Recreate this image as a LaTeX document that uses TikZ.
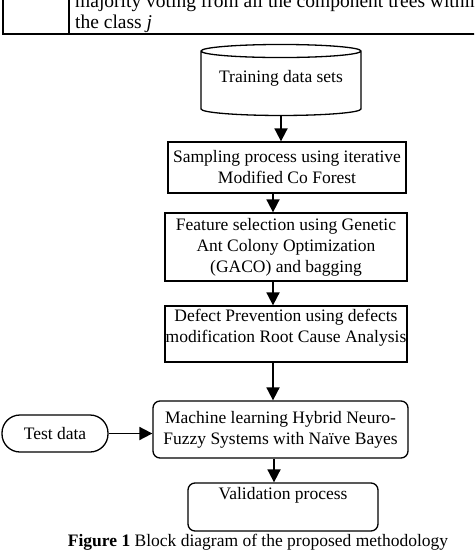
\documentclass[tikz,border=0pt]{standalone}
\usepackage{fontspec}
\setmainfont{Liberation Serif}
\usepackage{tikz}
\usetikzlibrary{shapes.geometric, arrows.meta, positioning}

\begin{document}
\begin{tikzpicture}[x=1pt, y=-1pt,
  every node/.style={font=\fontsize{17.5}{21}\selectfont},
  proc/.style={draw,rectangle,line width=1.3pt,align=center,inner xsep=2pt},
  rproc/.style={proc,rounded corners=7pt},
  term/.style={draw,rectangle,rounded corners=18pt,line width=1.3pt,align=center},
  store/.style={draw,cylinder,shape border rotate=90,aspect=0.1,line width=1.3pt,align=center},
  arr/.style={-{Triangle[width=13pt,length=13pt]},line width=1.8pt}
]
\useasboundingbox (0,0) rectangle (474,551);
\clip (0,0) rectangle (474,551);

% table left over from the page above
\draw[line width=1.5pt] (3,-5) -- (3,34) -- (480,34);
\draw[line width=1.2pt] (69,-5) -- (69,34);
\node[anchor=south west,inner sep=0pt,align=left,font=\fontsize{19.5}{21}\selectfont] (tbl) at (75,33)
  {majority voting from all the component trees within\\the class \textit{j}};

% flow
\node[store, minimum width=160pt, minimum height=71pt, text depth=16pt] (data) at (281,84.5) {Training data sets};
\node[proc, minimum width=238pt, minimum height=51pt] (samp) at (287,167.5)
  {Sampling process using iterative\\Modified Co Forest};
\node[proc, minimum width=242pt, minimum height=68pt] (feat) at (286,247)
  {Feature selection using Genetic\\Ant Colony Optimization\\(GACO) and bagging};
\node[proc, inner xsep=0pt, minimum width=242pt, minimum height=54pt, text depth=16pt] (defect) at (286,334)
  {Defect Prevention using defects\\\makebox[236pt]{modification Root Cause Analysis}};
\node[rproc, minimum width=255pt, minimum height=57pt] (hyb) at (280.5,429.5)
  {Machine learning Hybrid Neuro-\\Fuzzy Systems with Naïve Bayes};
\node[term, minimum width=106pt, minimum height=37pt] (test) at (55,433.5) {Test data};
\node[rproc, minimum width=190pt, minimum height=48pt, text depth=27pt] (valid) at (283,507) {Validation process};
\node (cap) at (258,542) {\textbf{Figure 1} Block diagram of the proposed methodology};

\draw[arr] (data.south) -- (data.south |- samp.north);
\draw[arr] ([xshift=-14pt]samp.south) -- ([xshift=-14pt]samp.south |- feat.north);
\draw[arr] ([xshift=-13pt]feat.south) -- ([xshift=-13pt]feat.south |- defect.north);
\draw[arr] ([xshift=-13pt]defect.south) -- ([xshift=-13pt]defect.south |- hyb.north);
\draw[arr] ([xshift=-6.5pt]hyb.south) -- ([xshift=-6.5pt]hyb.south |- valid.north);
\draw[arr] (test.east) -- (test.east -| hyb.west);
\end{tikzpicture}
\end{document}
